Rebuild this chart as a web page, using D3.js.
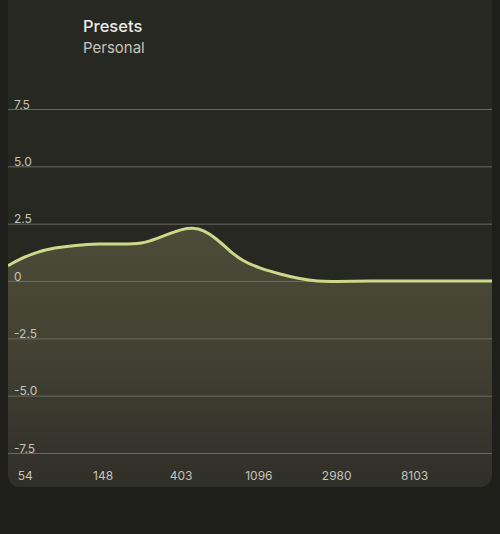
<!DOCTYPE html>
<html lang="en">
<head>
  <meta charset="utf-8">
  <title>Presets</title>
  <script src="https://d3js.org/d3.v7.min.js"></script>
  <style>
    html, body { margin: 0; padding: 0; background: #1e1e1a; }
    svg { display: block; }
  </style>
</head>
<body>
	<script type="text/javascript">

		// EQ curve, frequency (Hz) and gain (dB)
		var freqs = [44, 52, 63, 80, 105, 140, 190, 245, 300, 360, 410, 470, 545, 640, 760, 900, 1120, 1450, 1870, 2350, 2900, 3600, 22050];
		var gains = [0.67, 0.98, 1.25, 1.45, 1.56, 1.62, 1.61, 1.62, 1.86, 2.1, 2.25, 2.33, 2.22, 1.85, 1.3, 0.86, 0.55, 0.30, 0.09, -0.02, -0.03, 0.0, 0.0];

		// axis ticks
		var yTicks = [7.5, 5.0, 2.5, 0, -2.5, -5.0, -7.5];
		var yTickLabels = ["7.5", "5.0", "2.5", "0", "-2.5", "-5.0", "-7.5"];
		var xTicks = [54.6, 148.4, 403.4, 1096.6, 2981.0, 8103.1];
		var xTickLabels = ["54", "148", "403", "1096", "2980", "8103"];

		var title = "Presets";
		var subtitle = "Personal";

		var width = 500, height = 534;
		var card = {left: 8, right: 492, top: -20, bottom: 487, radius: 12};

		var svg = d3.select("body")
					.append("svg")
					.attr("width", width)
					.attr("height", height);

		var xScale = d3.scaleLog()
						.domain([44, 22050])
						.range([card.left, card.right]);

		var yScale = d3.scaleLinear()
						.domain([-7.5, 7.5])
						.range([453, 109]);

		var data = freqs.map(function(f, i) { return {f: f, g: gains[i]}; });

		var defs = svg.append("defs");

		defs.append("clipPath")
			.attr("id", "card-clip")
			.append("rect")
			.attr("x", card.left)
			.attr("y", card.top)
			.attr("width", card.right - card.left)
			.attr("height", card.bottom - card.top)
			.attr("rx", card.radius);

		var grad = defs.append("linearGradient")
			.attr("id", "area-grad")
			.attr("gradientUnits", "userSpaceOnUse")
			.attr("x1", 0).attr("x2", 0)
			.attr("y1", 225).attr("y2", card.bottom);
		grad.append("stop").attr("offset", "0%").attr("stop-color", "#4c4c38");
		grad.append("stop").attr("offset", "45%").attr("stop-color", "#434233");
		grad.append("stop").attr("offset", "100%").attr("stop-color", "#2f2f29");

		// card background
		svg.append("rect")
			.attr("x", card.left)
			.attr("y", card.top)
			.attr("width", card.right - card.left)
			.attr("height", card.bottom - card.top)
			.attr("rx", card.radius)
			.attr("fill", "#282823");

		var plot = svg.append("g").attr("clip-path", "url(#card-clip)");

		// filled area under curve, down to card bottom
		var area = d3.area()
					.x(function(d) { return xScale(d.f); })
					.y0(card.bottom)
					.y1(function(d) { return yScale(d.g); })
					.curve(d3.curveBasis);

		plot.append("path")
			.datum(data)
			.attr("d", area)
			.attr("fill", "url(#area-grad)");

		// horizontal grid lines with labels
		var yAxis = d3.axisRight(yScale)
						.tickValues(yTicks)
						.tickSize(card.right - card.left)
						.tickFormat(function(d, i) { return yTickLabels[i]; });

		var gy = plot.append("g")
			.attr("transform", "translate(" + card.left + ",0)")
			.call(yAxis);
		gy.select(".domain").remove();
		gy.selectAll(".tick line")
			.attr("stroke", "#6a6a60")
			.attr("stroke-width", 1);
		gy.selectAll(".tick text")
			.attr("x", 6)
			.attr("dy", "-1px")
			.attr("text-anchor", "start")
			.attr("fill", "#c4c4ba")
			.attr("font-size", "12px")
			.attr("font-family", "Inter, sans-serif");

		// curve line
		var line = d3.line()
					.x(function(d) { return xScale(d.f); })
					.y(function(d) { return yScale(d.g); })
					.curve(d3.curveBasis);

		plot.append("path")
			.datum(data)
			.attr("d", line)
			.attr("fill", "none")
			.attr("stroke", "#cdd98a")
			.attr("stroke-width", 3)
			.attr("stroke-linejoin", "round");

		// frequency labels
		var xAxis = d3.axisBottom(xScale)
						.tickValues(xTicks)
						.tickSize(0)
						.tickFormat(function(d, i) { return xTickLabels[i]; });

		var gx = svg.append("g")
			.attr("transform", "translate(0,470)")
			.call(xAxis);
		gx.select(".domain").remove();
		gx.selectAll(".tick text")
			.attr("y", 0)
			.attr("dy", "0.8em")
			.attr("fill", "#c4c4ba")
			.attr("font-size", "12px")
			.attr("font-family", "Inter, sans-serif");

		// titles
		svg.append("text")
			.text(title)
			.attr("x", 83)
			.attr("y", 32)
			.attr("fill", "#ebebe5")
			.attr("font-size", "16.5px")
			.attr("font-weight", 500)
			.attr("font-family", "Inter, sans-serif");

		svg.append("text")
			.text(subtitle)
			.attr("x", 83)
			.attr("y", 53)
			.attr("fill", "#c6c6bd")
			.attr("font-size", "15px")
			.attr("font-family", "Inter, sans-serif");
	</script>
</body>
</html>
